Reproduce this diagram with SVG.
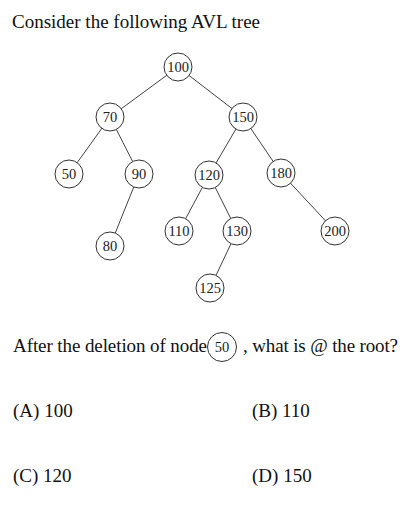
<svg xmlns="http://www.w3.org/2000/svg" width="408" height="517" viewBox="0 0 408 517">
<style>
.n circle{fill:#fff;stroke:#333;stroke-width:1}
.n text{font-family:"Liberation Serif",serif;font-size:14.5px;fill:#222;text-anchor:middle}
.e line{stroke:#444;stroke-width:1}
.t{font-family:"Liberation Serif",serif;font-size:19px;fill:#111}
</style>
<rect width="408" height="517" fill="#fff"/>
<text class="t" x="12" y="28">Consider the following AVL tree</text>
<g class="e" id="edges">
<line x1="178" y1="67" x2="110" y2="117"/>
<line x1="178" y1="67" x2="243" y2="117"/>
<line x1="110" y1="117" x2="69" y2="174"/>
<line x1="110" y1="117" x2="139" y2="174"/>
<line x1="139" y1="174" x2="110" y2="246"/>
<line x1="243" y1="117" x2="209" y2="175"/>
<line x1="243" y1="117" x2="281" y2="173"/>
<line x1="209" y1="175" x2="179" y2="231"/>
<line x1="209" y1="175" x2="237" y2="231"/>
<line x1="281" y1="173" x2="335" y2="231"/>
<line x1="237" y1="231" x2="210" y2="288"/>
</g>
<g class="n" id="n100"><circle cx="178" cy="67" r="14"/><text x="178" y="72">100</text></g>
<g class="n" id="n70"><circle cx="110" cy="117" r="14"/><text x="110" y="122">70</text></g>
<g class="n" id="n150"><circle cx="243" cy="117" r="14"/><text x="243" y="122">150</text></g>
<g class="n" id="n50"><circle cx="69" cy="174" r="14"/><text x="69" y="179">50</text></g>
<g class="n" id="n90"><circle cx="139" cy="174" r="14"/><text x="139" y="179">90</text></g>
<g class="n" id="n120"><circle cx="209" cy="175" r="14"/><text x="209" y="180">120</text></g>
<g class="n" id="n180"><circle cx="281" cy="173" r="14"/><text x="281" y="178">180</text></g>
<g class="n" id="n80"><circle cx="110" cy="246" r="14"/><text x="110" y="251">80</text></g>
<g class="n" id="n110"><circle cx="179" cy="231" r="14"/><text x="179" y="236">110</text></g>
<g class="n" id="n130"><circle cx="237" cy="231" r="14"/><text x="237" y="236">130</text></g>
<g class="n" id="n200"><circle cx="335" cy="231" r="14"/><text x="335" y="236">200</text></g>
<g class="n" id="n125"><circle cx="210" cy="288" r="14"/><text x="210" y="293">125</text></g>
<text class="t" x="13" y="352" textLength="194" lengthAdjust="spacing">After the deletion of node</text>
<g class="n" id="q50"><circle cx="222" cy="347" r="14.5"/><text x="222" y="352">50</text></g>
<text class="t" x="243" y="352" textLength="155" lengthAdjust="spacing">, what is @ the root?</text>
<text class="t" x="13" y="417">(A) 100</text>
<text class="t" x="252" y="417">(B) 110</text>
<text class="t" x="13" y="482">(C) 120</text>
<text class="t" x="252" y="482">(D) 150</text>
</svg>
